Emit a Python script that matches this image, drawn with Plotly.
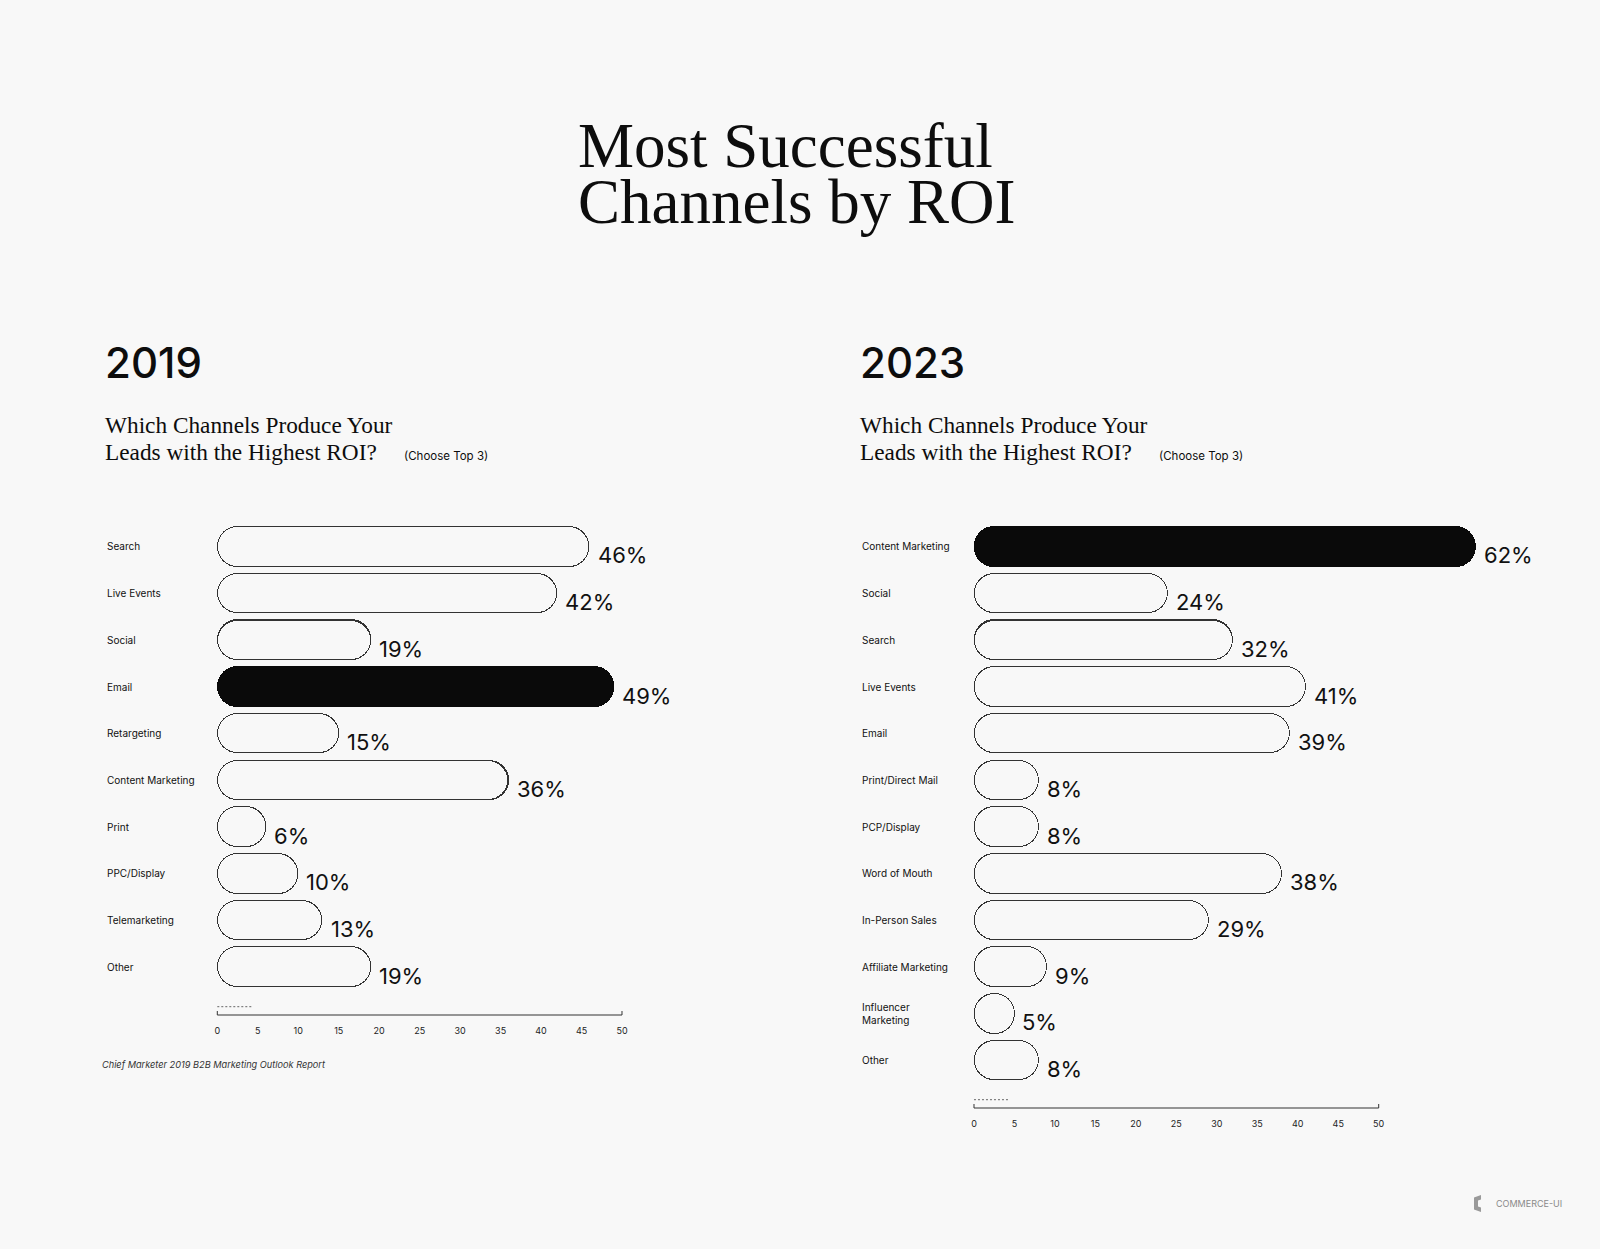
import plotly.graph_objects as go

# ---------------- data ----------------
left_year = "2019"
left_categories = ["Search", "Live Events", "Social", "Email", "Retargeting",
                   "Content Marketing", "Print", "PPC/Display", "Telemarketing", "Other"]
left_values = [46, 42, 19, 49, 15, 36, 6, 10, 13, 19]

right_year = "2023"
right_categories = ["Content Marketing", "Social", "Search", "Live Events", "Email",
                    "Print/Direct Mail", "PCP/Display", "Word of Mouth", "In-Person Sales",
                    "Affiliate Marketing", "Influencer Marketing", "Other"]
right_values = [62, 24, 32, 41, 39, 8, 8, 38, 29, 9, 5, 8]

tick_values = [0, 5, 10, 15, 20, 25, 30, 35, 40, 45, 50]
tick_labels = [str(t) for t in tick_values]

title_lines = ["Most Successful", "Channels by ROI"]
subtitle_lines = ["Which Channels Produce Your", "Leads with the Highest ROI?"]
choose_note = "(Choose Top 3)"
source_note = "Chief Marketer 2019 B2B Marketing Outlook Report"
brand = "COMMERCE-UI"

# ---------------- geometry / style ----------------
W, H = 1600, 1249
BG = "#f8f8f8"
INK = "#0d0d0d"
OUTLINE = "#333333"
HILITE = "#0a0a0a"
SANS = "Inter, Roboto, sans-serif"
SERIF = "Liberation Serif, Times New Roman, serif"

ROW = 46.7          # px per category row
FIRST = 546.4       # px centre of first row
KX = 8.094          # px per percentage point
BAR_PX = 40.6       # bar thickness px
EDGE = 1.05         # outline px


def px(x):
    return x / W


def py(y):
    return 1 - y / H


panels = [
    dict(cats=left_categories, vals=left_values, year=left_year, x0=217.3, label_x=105,
         axis_y=1015, xmax=62, ax="x", ay="y", text_x=105, source=True),
    dict(cats=right_categories, vals=right_values, year=right_year, x0=974.0, label_x=860,
         axis_y=1108, xmax=72, ax="x2", ay="y2", text_x=860, source=False),
]

fig = go.Figure()
annotations = []
shapes = []
layout_axes = {}

w_out = BAR_PX / ROW
w_in = (BAR_PX - 2 * EDGE) / ROW
t_u = EDGE / KX

for i, p in enumerate(panels):
    cats, vals = p["cats"], p["vals"]
    n = len(cats)
    vmax = max(vals)
    outer_col = [HILITE if v == vmax else OUTLINE for v in vals]
    inner_col = [HILITE if v == vmax else BG for v in vals]

    common = dict(orientation="h", y=cats, xaxis=p["ax"], yaxis=p["ay"],
                  hoverinfo="skip", showlegend=False)
    # outer pill (floating-base bars are rounded at both ends)
    fig.add_trace(go.Bar(x=list(vals), base=[0] * n, width=w_out,
                         marker=dict(color=outer_col, line_width=0, cornerradius="50%"),
                         **common))
    # inner pill, inset by the outline width
    fig.add_trace(go.Bar(x=[v - 2 * t_u for v in vals], base=[t_u] * n, width=w_in,
                         marker=dict(color=inner_col, line_width=0, cornerradius="50%"),
                         **common))

    top = FIRST - ROW / 2
    bottom = FIRST + (n - 1) * ROW + ROW / 2
    xr0 = -1.5
    xname = "xaxis" if i == 0 else "xaxis2"
    yname = "yaxis" if i == 0 else "yaxis2"
    layout_axes[xname] = dict(
        domain=[px(p["x0"] + xr0 * KX), px(p["x0"] + p["xmax"] * KX)],
        range=[xr0, p["xmax"]], anchor="free", position=py(p["axis_y"]),
        tickvals=tick_values, ticktext=tick_labels, ticks="outside", ticklen=7,
        tickcolor="rgba(0,0,0,0)", showline=False, showgrid=False, zeroline=False,
        tickfont=dict(family=SANS, size=9, color="#222"), fixedrange=True,
    )
    layout_axes[yname] = dict(
        domain=[py(bottom), py(top)], type="category", categoryorder="array",
        categoryarray=cats, range=[n - 0.5, -0.5], showticklabels=False,
        showgrid=False, zeroline=False, showline=False, anchor=p["ax"], fixedrange=True,
    )

    # axis baseline + end ticks + dotted scale mark
    ya = py(p["axis_y"])
    shapes.append(dict(type="line", xref=p["ax"], yref="paper", x0=0, x1=50, y0=ya, y1=ya,
                       line=dict(color="#333", width=1)))
    for xt in (0, 50):
        shapes.append(dict(type="line", xref=p["ax"], yref="paper", x0=xt, x1=xt,
                           y0=ya, y1=py(p["axis_y"] - 4), line=dict(color="#333", width=1)))
    shapes.append(dict(type="line", xref=p["ax"], yref="paper", x0=0, x1=4.4,
                       y0=py(p["axis_y"] - 8.3), y1=py(p["axis_y"] - 8.3),
                       line=dict(color="#666", width=1, dash="2px,2px")))

    # category labels
    for c in cats:
        txt = c.replace("Influencer Marketing", "Influencer<br>Marketing")
        annotations.append(dict(xref="paper", yref=p["ay"], x=px(p["label_x"]), y=c,
                                text=txt, showarrow=False, xanchor="left", yanchor="middle",
                                align="left", font=dict(family=SANS, size=10, color="#111")))
    # value labels
    for c, v in zip(cats, vals):
        annotations.append(dict(xref=p["ax"], yref=p["ay"], x=v, y=c, text=f"{v}%",
                                showarrow=False, xanchor="left", yanchor="middle",
                                xshift=6, yshift=-9,
                                font=dict(family=SANS, size=22, color="#111")))

    # year heading
    annotations.append(dict(xref="paper", yref="paper", x=px(p["text_x"] - 2), y=py(362),
                            text=p["year"], showarrow=False, xanchor="left", yanchor="middle",
                            font=dict(family=SANS, size=42, color=INK, weight=500)))
    # subtitle
    for j, line in enumerate(subtitle_lines):
        annotations.append(dict(xref="paper", yref="paper", x=px(p["text_x"] - 2),
                                y=py(425.5 + 27 * j), text=line, showarrow=False,
                                xanchor="left", yanchor="middle",
                                font=dict(family=SERIF, size=23.3, color=INK)))
    annotations.append(dict(xref="paper", yref="paper", x=px(p["text_x"] + 297), y=py(456),
                            text=choose_note, showarrow=False, xanchor="left", yanchor="middle",
                            font=dict(family=SANS, size=11.5, color=INK)))
    if p["source"]:
        annotations.append(dict(xref="paper", yref="paper", x=px(100), y=py(1064),
                                text=f"<i>{source_note}</i>", showarrow=False, xanchor="left",
                                yanchor="middle", font=dict(family=SANS, size=9.2, color="#333")))

# main title
for j, line in enumerate(title_lines):
    annotations.append(dict(xref="paper", yref="paper", x=px(576), y=py(146 + 56 * j),
                            text=line, showarrow=False, xanchor="left", yanchor="middle",
                            font=dict(family=SERIF, size=63, color=INK)))

# brand mark
annotations.append(dict(xref="paper", yref="paper", x=px(1494), y=py(1203), text=brand,
                        showarrow=False, xanchor="left", yanchor="middle",
                        font=dict(family=SANS, size=9, color="#8a8a8a")))
icon = [(1474, 1197.5), (1481, 1195), (1481, 1199.5), (1478, 1200.5), (1478, 1206.5),
        (1481, 1207.5), (1481, 1212), (1474, 1209.5)]
path = "M " + " L ".join(f"{px(a):.5f},{py(b):.5f}" for a, b in icon) + " Z"
shapes.append(dict(type="path", xref="paper", yref="paper", path=path,
                   fillcolor="#9a9a9a", line=dict(width=0)))

fig.update_layout(
    width=W, height=H, margin=dict(l=0, r=0, t=0, b=0),
    paper_bgcolor=BG, plot_bgcolor="rgba(0,0,0,0)",
    barmode="overlay", bargap=0, showlegend=False,
    annotations=annotations, shapes=shapes,
    **layout_axes,
)

fig.write_html(
    "out.html",
    config={"displayModeBar": False},
    post_script="document.body.style.margin='0';document.body.style.background='%s';" % BG,
)
